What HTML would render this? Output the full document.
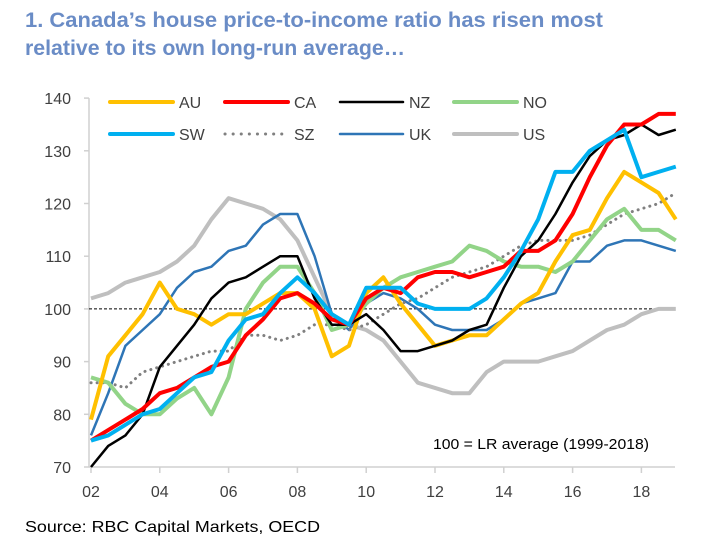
<!DOCTYPE html>
<html><head><meta charset="utf-8">
<style>
body{margin:0;background:#fff;width:715px;height:541px;overflow:hidden;font-family:"Liberation Sans",sans-serif;}
svg{position:absolute;left:0;top:0}
</style></head>
<body>
<svg id="chart" width="715" height="541">
<text x="25" y="27" font-size="21" font-weight="bold" fill="#6a8cc6" textLength="578" lengthAdjust="spacingAndGlyphs">1. Canada’s house price-to-income ratio has risen most</text>
<text x="25" y="55" font-size="21" font-weight="bold" fill="#6a8cc6" textLength="380" lengthAdjust="spacingAndGlyphs">relative to its own long-run average…</text>
<text x="25" y="532" font-size="16" fill="#000" textLength="295" lengthAdjust="spacingAndGlyphs">Source: RBC Capital Markets, OECD</text>
<text x="433" y="449" font-size="15" fill="#000" textLength="216" lengthAdjust="spacingAndGlyphs">100 = LR average (1999-2018)</text>
<g id="axes"></g><g id="series"></g><g id="legend"></g>
</svg>
<script>
const years=[2002,2002.5,2003,2003.5,2004,2004.5,2005,2005.5,2006,2006.5,2007,2007.5,2008,2008.5,2009,2009.5,2010,2010.5,2011,2011.5,2012,2012.5,2013,2013.5,2014,2014.5,2015,2015.5,2016,2016.5,2017,2017.5,2018,2018.5,2019];
const AU=[79,91,95,99,105,100,99,97,99,99,101,103,103,100,91,93,103,106,101,97,93,94,95,95,98,101,103,109,114,115,121,126,124,122,117];
const CA=[75,77,79,81,84,85,87,89,90,95,98,102,103,101,98,97,102,104,103,106,107,107,106,107,108,111,111,113,118,125,131,135,135,137,137];
const NZ=[70,74,76,80,89,93,97,102,105,106,108,110,110,102,97,97,99,96,92,92,93,94,96,97,104,110,113,118,124,129,132,133,135,133,134];
const NO=[87,86,82,80,80,83,85,80,87,100,105,108,108,103,96,97,101,104,106,107,108,109,112,111,109,108,108,107,109,113,117,119,115,115,113];
const SW=[75,76,78,80,81,84,87,88,94,98,99,103,106,103,99,97,104,104,104,101,100,100,100,102,106,111,117,126,126,130,132,134,125,126,127];
const SZ=[86,86,85,88,89,90,91,92,92,95,95,94,95,97,97,96,97,99,101,102,104,106,107,108,110,112,113,113,113,114,116,118,119,120,122];
const UK=[76,84,93,96,99,104,107,108,111,112,116,118,118,110,99,96,101,103,102,100,97,96,96,96,98,101,102,103,109,109,112,113,113,112,111];
const US=[102,103,105,106,107,109,112,117,121,120,119,117,113,106,99,97,96,94,90,86,85,84,84,88,90,90,90,91,92,94,96,97,99,100,100];
const yTicks=[70,80,90,100,110,120,130,140];
const xTicks=[2002,2004,2006,2008,2010,2012,2014,2016,2018];
const xLabels=["02","04","06","08","10","12","14","16","18"];
const NS="http://www.w3.org/2000/svg";
function X(t){return 91+(t-2002)*34.4;}
function Y(v){return 467-(v-70)*5.27;}
function mk(tag,attrs,parent){const e=document.createElementNS(NS,tag);for(const k in attrs)e.setAttribute(k,attrs[k]);parent.appendChild(e);return e;}
const ax=document.getElementById('axes');
let e=mk('line',{x1:89,y1:Y(140),x2:89,y2:467,stroke:'#d0d0d0','stroke-width':1.5},ax);


e=mk('line',{x1:89,y1:467,x2:675,y2:467,stroke:'#d0d0d0','stroke-width':1.5},ax);


yTicks.forEach(v=>{
  mk('line',{x1:84,y1:Y(v),x2:89,y2:Y(v),stroke:'#d0d0d0','stroke-width':1.5},ax);
  const t=mk('text',{x:71,y:Y(v)+6,'font-size':16,fill:'#404040','text-anchor':'end'},ax);
  t.textContent=v;
  
  
});
xTicks.forEach((v,i)=>{
  mk('line',{x1:X(v),y1:467,x2:X(v),y2:473,stroke:'#d0d0d0','stroke-width':1.5},ax);
  const t=mk('text',{x:X(v),y:497,'font-size':16,fill:'#404040','text-anchor':'middle'},ax);
  t.textContent=xLabels[i];
  
  
});
e=mk('line',{x1:89,y1:Y(100),x2:675,y2:Y(100),stroke:'#000','stroke-width':1,'stroke-dasharray':'3,2'},ax);


const defs=[
 ['AU',AU,'#ffc000',4,null],['CA',CA,'#ff0000',4,null],['NZ',NZ,'#000000',2.5,null],['NO',NO,'#92d488',4,null],
 ['SW',SW,'#00b0f0',4,null],['SZ',SZ,'#808080',3,'0.1,6'],['UK',UK,'#2e75b6',2.5,null],['US',US,'#bfbfbf',4,null]];
const sg=document.getElementById('series');
const order=['US','UK','SZ','NO','AU','NZ','CA','SW'];
order.forEach(n=>{
  const d=defs.find(q=>q[0]===n);
  const pts=d[1].map((v,i)=>X(years[i]).toFixed(1)+','+Y(v).toFixed(1)).join(' ');
  const a={points:pts,fill:'none',stroke:d[2],'stroke-width':d[3],'stroke-linejoin':'round'};
  if(d[4]){a['stroke-dasharray']=d[4];a['stroke-linecap']='round';}
  const p=mk('polyline',a,sg);
  
  
});
const lg=document.getElementById('legend');
const lx=[110,225,340,454],ly=[102,134];
defs.forEach((d,i)=>{
  const x=lx[i%4],y=ly[Math.floor(i/4)];
  const g=mk('g',{},lg);
  
  
  const a={x1:x,y1:y,x2:x+63,y2:y,stroke:d[2],'stroke-width':d[3],'stroke-linecap':'round'};
  if(d[4]){a['stroke-dasharray']='0.1,8';a['stroke-width']=3;}
  mk('line',a,g);
  const t=mk('text',{x:x+69,y:y+6,'font-size':16,fill:'#404040'},g);
  t.textContent=d[0];
});
</script>
</body></html>
